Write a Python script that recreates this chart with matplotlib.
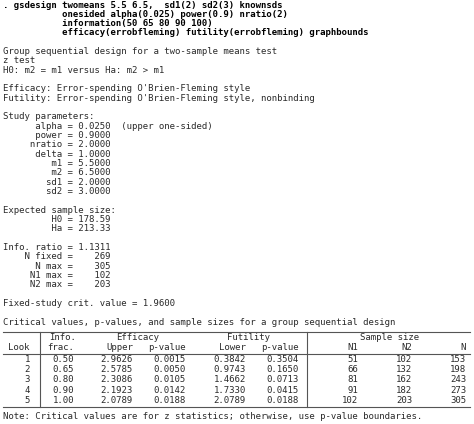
import matplotlib.pyplot as plt

# Table data
looks = [1, 2, 3, 4, 5]
info_frac = [0.50, 0.65, 0.80, 0.90, 1.00]
eff_upper = [2.9626, 2.5785, 2.3086, 2.1923, 2.0789]
eff_p = [0.0015, 0.0050, 0.0105, 0.0142, 0.0188]
fut_lower = [0.3842, 0.9743, 1.4662, 1.7330, 2.0789]
fut_p = [0.3504, 0.1650, 0.0713, 0.0415, 0.0188]
n1 = [51, 66, 81, 91, 102]
n2 = [102, 132, 162, 182, 203]
n_tot = [153, 198, 243, 273, 305]

command = [
    ". gsdesign twomeans 5.5 6.5,  sd1(2) sd2(3) knownsds",
    "           onesided alpha(0.025) power(0.9) nratio(2)",
    "           information(50 65 80 90 100)",
    "           efficacy(errobfleming) futility(errobfleming) graphbounds",
]
output = [
    "",
    "Group sequential design for a two-sample means test",
    "z test",
    "H0: m2 = m1 versus Ha: m2 > m1",
    "",
    "Efficacy: Error-spending O'Brien-Fleming style",
    "Futility: Error-spending O'Brien-Fleming style, nonbinding",
    "",
    "Study parameters:",
    "      alpha = 0.0250  (upper one-sided)",
    "      power = 0.9000",
    "     nratio = 2.0000",
    "      delta = 1.0000",
    "         m1 = 5.5000",
    "         m2 = 6.5000",
    "        sd1 = 2.0000",
    "        sd2 = 3.0000",
    "",
    "Expected sample size:",
    "         H0 = 178.59",
    "         Ha = 213.33",
    "",
    "Info. ratio = 1.1311",
    "    N fixed =    269",
    "      N max =    305",
    "     N1 max =    102",
    "     N2 max =    203",
    "",
    "Fixed-study crit. value = 1.9600",
    "",
    "Critical values, p-values, and sample sizes for a group sequential design",
]

FS = 6.45
TXT = '#2a2a2a'
mono = 'DejaVu Sans Mono'

fig = plt.figure(figsize=(4.74, 4.24), dpi=100)
ax = fig.add_axes([0, 0, 1, 1])
ax.set_xlim(0, 474)
ax.set_ylim(424, 0)
ax.axis('off')

y0, dy = 5, 9.33
for i, line in enumerate(command):
    ax.text(3, y0 + i * dy, line, family=mono, fontsize=FS, fontweight='bold',
            color='black', va='center')
for i, line in enumerate(output):
    ax.text(3, y0 + (i + 4) * dy, line, family=mono, fontsize=FS,
            color=TXT, va='center')

# table rules
rule = '#555555'
ax.plot([3, 470], [331.5, 331.5], color=rule, lw=0.8)
ax.plot([3, 470], [353.5, 353.5], color=rule, lw=0.8)
ax.plot([3, 470], [406.5, 406.5], color=rule, lw=0.8)
ax.plot([40, 40], [331.5, 406.5], color=rule, lw=0.8)
ax.plot([307, 307], [331.5, 406.5], color=rule, lw=0.8)

h1, h2 = 337, 348
kw = dict(family=mono, fontsize=FS, color=TXT, va='center')
ax.text(63, h1, "Info.", ha='center', **kw)
ax.text(138, h1, "Efficacy", ha='center', **kw)
ax.text(249, h1, "Futility", ha='center', **kw)
ax.text(390, h1, "Sample size", ha='center', **kw)
cols = [30, 74, 133, 186, 246, 299, 358, 412, 466]
heads = ["Look", "frac.", "Upper", "p-value", "Lower", "p-value", "N1", "N2", "N"]
for x, h in zip(cols, heads):
    ax.text(x, h2, h, ha='right', **kw)

for r in range(len(looks)):
    y = 359.5 + r * 10.2
    vals = [f"{looks[r]}", f"{info_frac[r]:.2f}", f"{eff_upper[r]:.4f}", f"{eff_p[r]:.4f}",
            f"{fut_lower[r]:.4f}", f"{fut_p[r]:.4f}", f"{n1[r]}", f"{n2[r]}", f"{n_tot[r]}"]
    xs = [30, 74, 133, 186, 246, 299, 358, 412, 466]
    xs[0] = 30
    for x, v in zip(xs, vals):
        ax.text(x, y, v, ha='right', **kw)

ax.text(3, 416.5, "Note: Critical values are for z statistics; otherwise, use p-value boundaries.",
        **kw)

fig.savefig('out.png', dpi=100)
